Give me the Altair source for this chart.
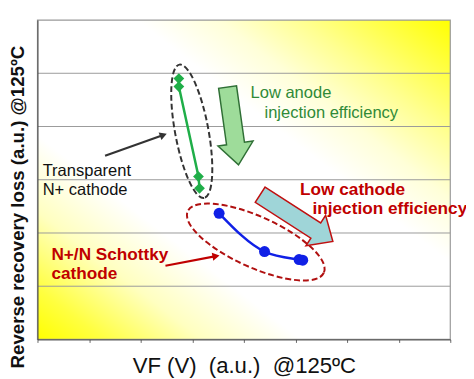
import altair as alt
import pandas as pd

# ---------------- data ----------------
X_DOMAIN = [0, 8]
Y_DOMAIN = [0, 6]
X_TICKS = [0, 1, 2, 3, 4, 5, 6, 7, 8]
Y_GRID = [1, 2, 3, 4, 5]

GREEN_X = [2.74, 2.74, 3.12, 3.14]
GREEN_Y = [4.90, 4.75, 3.06, 2.84]
BLUE_X = [3.52, 4.40, 5.07, 5.14]
BLUE_Y = [2.37, 1.65, 1.50, 1.49]

X_TITLE = "VF (V)\u00a0\u00a0(a.u.)\u00a0\u00a0@125ºC"
Y_TITLE = "Reverse recovery loss (a.u.) @125ºC"

LABEL_TEXT = ["Low anode", "injection efficiency", "Transparent", "N+ cathode",
              "Low cathode", "injection efficiency", "N+/N Schottky", "cathode"]
LABEL_X = [4.13, 4.40, 0.10, 0.10, 5.09, 5.33, 0.27, 0.27]
LABEL_Y = [4.63, 4.26, 3.17, 2.81, 2.81, 2.44, 1.59, 1.22]
LABEL_GROUP = ["green", "green", "black", "black", "red", "red", "red", "red"]

# annotation anchors (data units)
ELL_GREEN = (2.99, 3.91)
ELL_RED = (4.23, 1.83)
ARROW_GREEN = (3.79, 4.01)
ARROW_CYAN = (5.02, 2.28)
THIN_BLACK = (1.31, 3.45, 2.44, 3.84)
THIN_RED = (2.48, 1.385, 3.46, 1.565)

GREEN = "#1fae48"
BLUE = "#1020e6"
RED = "#c00000"
TXT_GREEN = "#2f8a38"
FONT = "Liberation Sans"

xs = alt.Scale(domain=X_DOMAIN, nice=False, zero=False)
ys = alt.Scale(domain=Y_DOMAIN, nice=False, zero=False)


def ellipse_path(r):
    k = 0.5523
    return (f"M 1 0 C 1 {k*r:.4f} {k:.4f} {r:.4f} 0 {r:.4f} "
            f"C {-k:.4f} {r:.4f} -1 {k*r:.4f} -1 0 "
            f"C -1 {-k*r:.4f} {-k:.4f} {-r:.4f} 0 {-r:.4f} "
            f"C {k:.4f} {-r:.4f} 1 {-k*r:.4f} 1 0 Z")


def arrow_path(sw, hw, hb):
    return (f"M -1 {-sw} L {hb} {-sw} L {hb} {-hw} L 1 0 L {hb} {hw} "
            f"L {hb} {sw} L -1 {sw} Z")


box = pd.DataFrame({"x": [X_DOMAIN[0]], "x2": [X_DOMAIN[1]],
                    "y": [Y_DOMAIN[0]], "y2": [Y_DOMAIN[1]]})

gradient = alt.LinearGradient(
    gradient="linear", x1=0, y1=1, x2=1, y2=0,
    stops=[alt.GradientStop(color="#ffff00", offset=0),
           alt.GradientStop(color="#ffff40", offset=0.08),
           alt.GradientStop(color="#ffffc0", offset=0.2),
           alt.GradientStop(color="#ffffff", offset=0.32),
           alt.GradientStop(color="#ffffff", offset=0.62),
           alt.GradientStop(color="#ffffd8", offset=0.72),
           alt.GradientStop(color="#ffff90", offset=0.82),
           alt.GradientStop(color="#ffff40", offset=0.92),
           alt.GradientStop(color="#ffff00", offset=1)])

bg = alt.Chart(box).mark_rect(fill=gradient).encode(
    x=alt.X("x:Q", scale=xs, axis=alt.Axis(
        title=X_TITLE, labels=False, values=X_TICKS, tickSize=3,
        tickColor="#666666", domainColor="#444444", grid=False, zindex=1,
        titleFont=FONT, titleFontSize=22.5, titleFontWeight="normal",
        titleColor="#111111", titleBaseline="middle", titleY=27)),
    x2="x2:Q",
    y=alt.Y("y:Q", scale=ys, axis=alt.Axis(
        title=Y_TITLE, labels=False, ticks=False, domainColor="#444444",
        grid=False, zindex=1, titleFont=FONT, titleFontSize=19,
        titleFontWeight="bold", titleColor="#111111", titleAngle=270,
        titleAlign="left", titleBaseline="middle", titleX=-20, titleY=354)),
    y2="y2:Q",
)

grid = alt.Chart(pd.DataFrame({"y": Y_GRID})).mark_rule(
    color="#9a9a9a", strokeWidth=1).encode(y=alt.Y("y:Q", scale=ys))

gdf = pd.DataFrame({"x": GREEN_X, "y": GREEN_Y})
bdf = pd.DataFrame({"x": BLUE_X, "y": BLUE_Y})

gline = alt.Chart(gdf).mark_line(color=GREEN, strokeWidth=2.5).encode(
    x=alt.X("x:Q", scale=xs), y=alt.Y("y:Q", scale=ys))
gpts = alt.Chart(gdf).mark_point(shape="diamond", filled=True, color=GREEN,
                                 size=120, opacity=1).encode(
    x=alt.X("x:Q", scale=xs), y=alt.Y("y:Q", scale=ys))
bline = alt.Chart(bdf).mark_line(color=BLUE, strokeWidth=2.5,
                                 interpolate="monotone").encode(
    x=alt.X("x:Q", scale=xs), y=alt.Y("y:Q", scale=ys))
bpts = alt.Chart(bdf).mark_circle(color=BLUE, size=125, opacity=1).encode(
    x=alt.X("x:Q", scale=xs), y=alt.Y("y:Q", scale=ys))


def symbol(pos, shape, size, angle, **kw):
    df = pd.DataFrame({"x": [pos[0]], "y": [pos[1]]})
    return alt.Chart(df).mark_point(shape=shape, size=size, angle=angle,
                                    opacity=1, **kw).encode(
        x=alt.X("x:Q", scale=xs), y=alt.Y("y:Q", scale=ys))


ell_g = symbol(ELL_GREEN, ellipse_path(0.246), 138 ** 2, 79.5, filled=False,
               stroke="#333333", strokeWidth=2, strokeDash=[6, 3])
ell_r = symbol(ELL_RED, ellipse_path(0.34), 152 ** 2, 24.3, filled=False,
               stroke="#b01010", strokeWidth=2, strokeDash=[6, 3])

arr_g = symbol(ARROW_GREEN, arrow_path(0.23, 0.45, 0.45), 80 ** 2, 82,
               filled=True, fill="#9edc9a", stroke="#2f6f35", strokeWidth=1.5)
arr_c = symbol(ARROW_CYAN, arrow_path(0.21, 0.42, 0.53), 88 ** 2, 32.8,
               filled=True, fill="#9fd5d8", stroke="#c01010", strokeWidth=1.5)


def thin_arrow(seg, color, angle):
    df = pd.DataFrame({"x": [seg[0]], "y": [seg[1]], "x2": [seg[2]], "y2": [seg[3]]})
    rule = alt.Chart(df).mark_rule(color=color, strokeWidth=2.2).encode(
        x=alt.X("x:Q", scale=xs), y=alt.Y("y:Q", scale=ys), x2="x2:Q", y2="y2:Q")
    head = alt.Chart(df).mark_point(shape="triangle-right", filled=True,
                                    color=color, size=70, angle=angle,
                                    opacity=1).encode(
        x=alt.X("x2:Q", scale=xs), y=alt.Y("y2:Q", scale=ys))
    return rule + head


tb = thin_arrow(THIN_BLACK, "#333333", 340)
tr = thin_arrow(THIN_RED, RED, 349.5)

ldf = pd.DataFrame({"t": LABEL_TEXT, "x": LABEL_X, "y": LABEL_Y, "g": LABEL_GROUP})


def labels(group, color, weight, size):
    return alt.Chart(ldf[ldf.g == group]).mark_text(
        align="left", baseline="middle", font=FONT, fontSize=size,
        fontWeight=weight, color=color).encode(
        x=alt.X("x:Q", scale=xs), y=alt.Y("y:Q", scale=ys), text="t:N")


lab_g = labels("green", TXT_GREEN, "normal", 16.8)
lab_k = labels("black", "#111111", "normal", 16.8)
lab_r = labels("red", RED, "bold", 17.5)

border = alt.Chart(box).mark_rect(filled=False, stroke="#999999",
                                  strokeWidth=1.2, fillOpacity=0).encode(
    x=alt.X("x:Q", scale=xs), x2="x2:Q", y=alt.Y("y:Q", scale=ys), y2="y2:Q")

chart = alt.layer(
    bg, grid, border, ell_g, ell_r, gline, gpts, bline, bpts,
    arr_g, arr_c, tb, tr, lab_g, lab_k, lab_r
).properties(
    width=420, height=325,
    autosize=alt.AutoSizeParams(type="none"),
    padding={"left": 30, "top": 9, "right": 16, "bottom": 38},
).configure_view(stroke=None)

chart.save("out.html", embed_options={"renderer": "svg", "actions": False})
